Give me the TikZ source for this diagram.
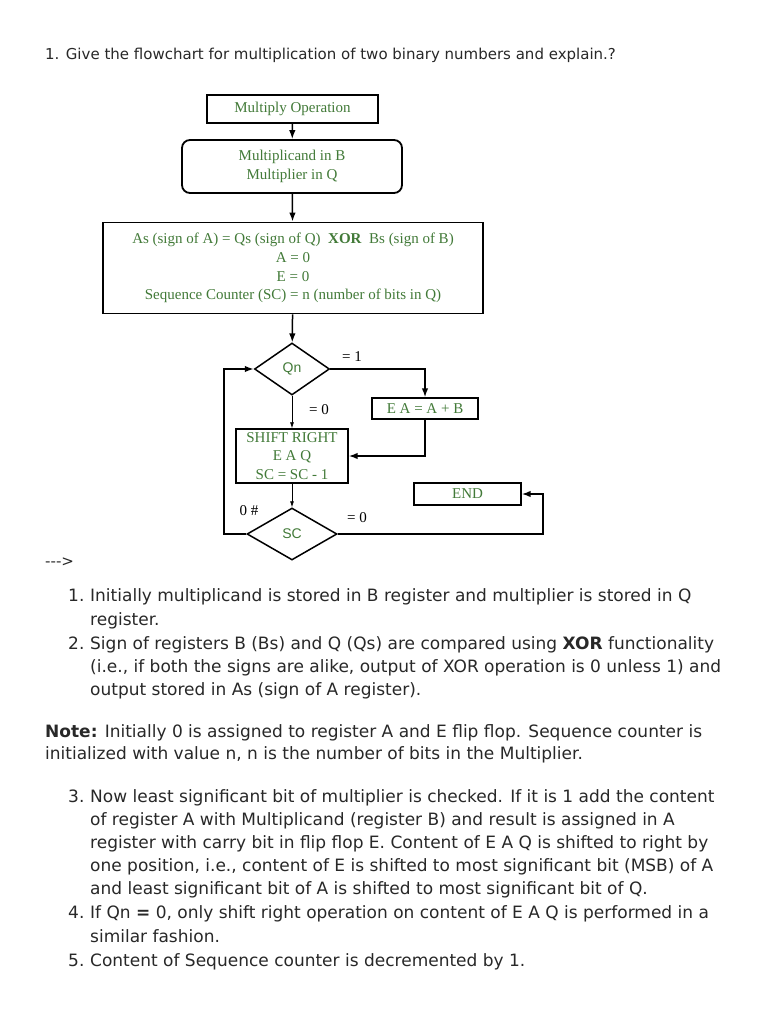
\documentclass[tikz,border=0pt]{standalone}
\usepackage{fontspec}
\setmainfont{DejaVu Sans}
\newfontfamily\chartfont{Liberation Serif}
\newfontfamily\diafont{Liberation Sans}
\usepackage{xcolor}
\usetikzlibrary{arrows.meta,shapes.geometric}
\definecolor{chartgreen}{RGB}{66,122,56}
\definecolor{bodytext}{RGB}{40,40,40}

\tikzset{
  chartbox/.style={draw,line width=1.8pt,text=chartgreen,font=\chartfont\fontsize{15}{18.7}\selectfont,align=center,inner sep=0pt},
  decision/.style={draw,diamond,line width=1.5pt,text=chartgreen,font=\diafont\fontsize{14}{16}\selectfont,inner sep=0pt},
  flow/.style={line width=1.5pt,-{Latex[length=9pt,width=6.5pt]}},
  thinflow/.style={line width=0.7pt,-{Latex[length=6pt,width=4pt]}},
  edgelabel/.style={font=\chartfont\fontsize{15}{17}\selectfont},
  para/.style={anchor=base west,inner sep=0pt,text=bodytext,font=\fontsize{17}{20}\selectfont}
}

\begin{document}
\begin{tikzpicture}[x=1pt,y=-1pt]
        \useasboundingbox[fill=white] (0,0) rectangle (768,1024);
        \node[para,font=\fontsize{15}{18}\selectfont] (question) at (45,60) {1. Give the flowchart for multiplication of two binary numbers and explain.?};
        % flowchart
        \node[chartbox,minimum width=171,minimum height=28] (op) at (292.5,109) {Multiply Operation};
        \node[chartbox,rounded corners=8pt,minimum width=220,minimum height=53] (init) at (292,166.5) {Multiplicand in B\\Multiplier in Q};
        \node[chartbox,minimum width=380,minimum height=91] (setup) at (293,268)
          {As (sign of A) = Qs (sign of Q) \ \textbf{XOR} \ Bs (sign of B)\\A = 0\\E = 0\\Sequence Counter (SC) = n (number of bits in Q)};
        \node[decision,minimum width=75,minimum height=52] (qn) at (292,369) {Qn};
        \node[chartbox,line width=1.4pt,minimum width=106,minimum height=21] (add) at (425,408.5) {E A = A + B};
        \node[chartbox,line width=1.4pt,minimum width=112,minimum height=54,font=\chartfont\fontsize{15}{18.5}\selectfont] (shift) at (292,456) {SHIFT RIGHT\\E A Q\\SC = SC - 1};
        \node[decision,minimum width=90,minimum height=52] (sc) at (292,534) {SC};
        \node[chartbox,line width=1.4pt,minimum width=107,minimum height=22] (end) at (467.5,494) {END};
        \coordinate (loop) at (224,534);
        \coordinate (ret) at (543,534);
        \draw[flow] (op) -- (init);
        \draw[flow] (init) -- (setup);
        \draw[flow] (setup) -- (qn);
        \draw[flow] (qn.east) -| (add.north);
        \draw[flow] (add.south) |- (shift.east);
        \draw[thinflow] (qn.south) -- (shift.north);
        \draw[thinflow] (shift.south) -- (sc.north);
        \draw[flow] (sc.west) -- (loop) |- (qn.west);
        \draw[flow] (sc.east) -- (ret) |- (end.east);
        \node[edgelabel] (one) at (352,357) {= 1};
        \node[edgelabel] (zero) at (319,410) {= 0};
        \node[edgelabel] (notzero) at (249,511) {0 \#};
        \node[edgelabel] (sczero) at (357,518) {= 0};
        % explanation
        \node[para,font=\fontsize{15}{18}\selectfont] (arrow) at (45,566) {{-}{-}{-}>};
        \node[para] (n1) at (68,601) {1.};
        \node[para] (l1) at (90,601) {Initially multiplicand is stored in B register and multiplier is stored in Q};
        \node[para] (l2) at (90,625) {register.};
        \node[para] (n2) at (68,649) {2.};
        \node[para] (l3) at (90,649) {Sign of registers B (Bs) and Q (Qs) are compared using \textbf{XOR} functionality};
        \node[para] (l4) at (90,672) {(i.e., if both the signs are alike, output of XOR operation is 0 unless 1) and};
        \node[para] (l5) at (90,695) {output stored in As (sign of A register).};
        \node[para] (l6) at (45,737) {\textbf{Note:} Initially 0 is assigned to register A and E flip flop. Sequence counter is};
        \node[para] (l7) at (45,759) {initialized with value n, n is the number of bits in the Multiplier.};
        \node[para] (n3) at (68,802) {3.};
        \node[para] (l8) at (90,802) {Now least significant bit of multiplier is checked. If it is 1 add the content};
        \node[para] (l9) at (90,825) {of register A with Multiplicand (register B) and result is assigned in A};
        \node[para] (l10) at (90,848) {register with carry bit in flip flop E. Content of E A Q is shifted to right by};
        \node[para] (l11) at (90,871) {one position, i.e., content of E is shifted to most significant bit (MSB) of A};
        \node[para] (l12) at (90,894) {and least significant bit of A is shifted to most significant bit of Q.};
        \node[para] (n4) at (68,918) {4.};
        \node[para] (l13) at (90,918) {If Qn \textbf{=} 0, only shift right operation on content of E A Q is performed in a};
        \node[para] (l14) at (90,942) {similar fashion.};
        \node[para] (n5) at (68,966) {5.};
        \node[para] (l15) at (90,966) {Content of Sequence counter is decremented by 1.};
\end{tikzpicture}
\end{document}
